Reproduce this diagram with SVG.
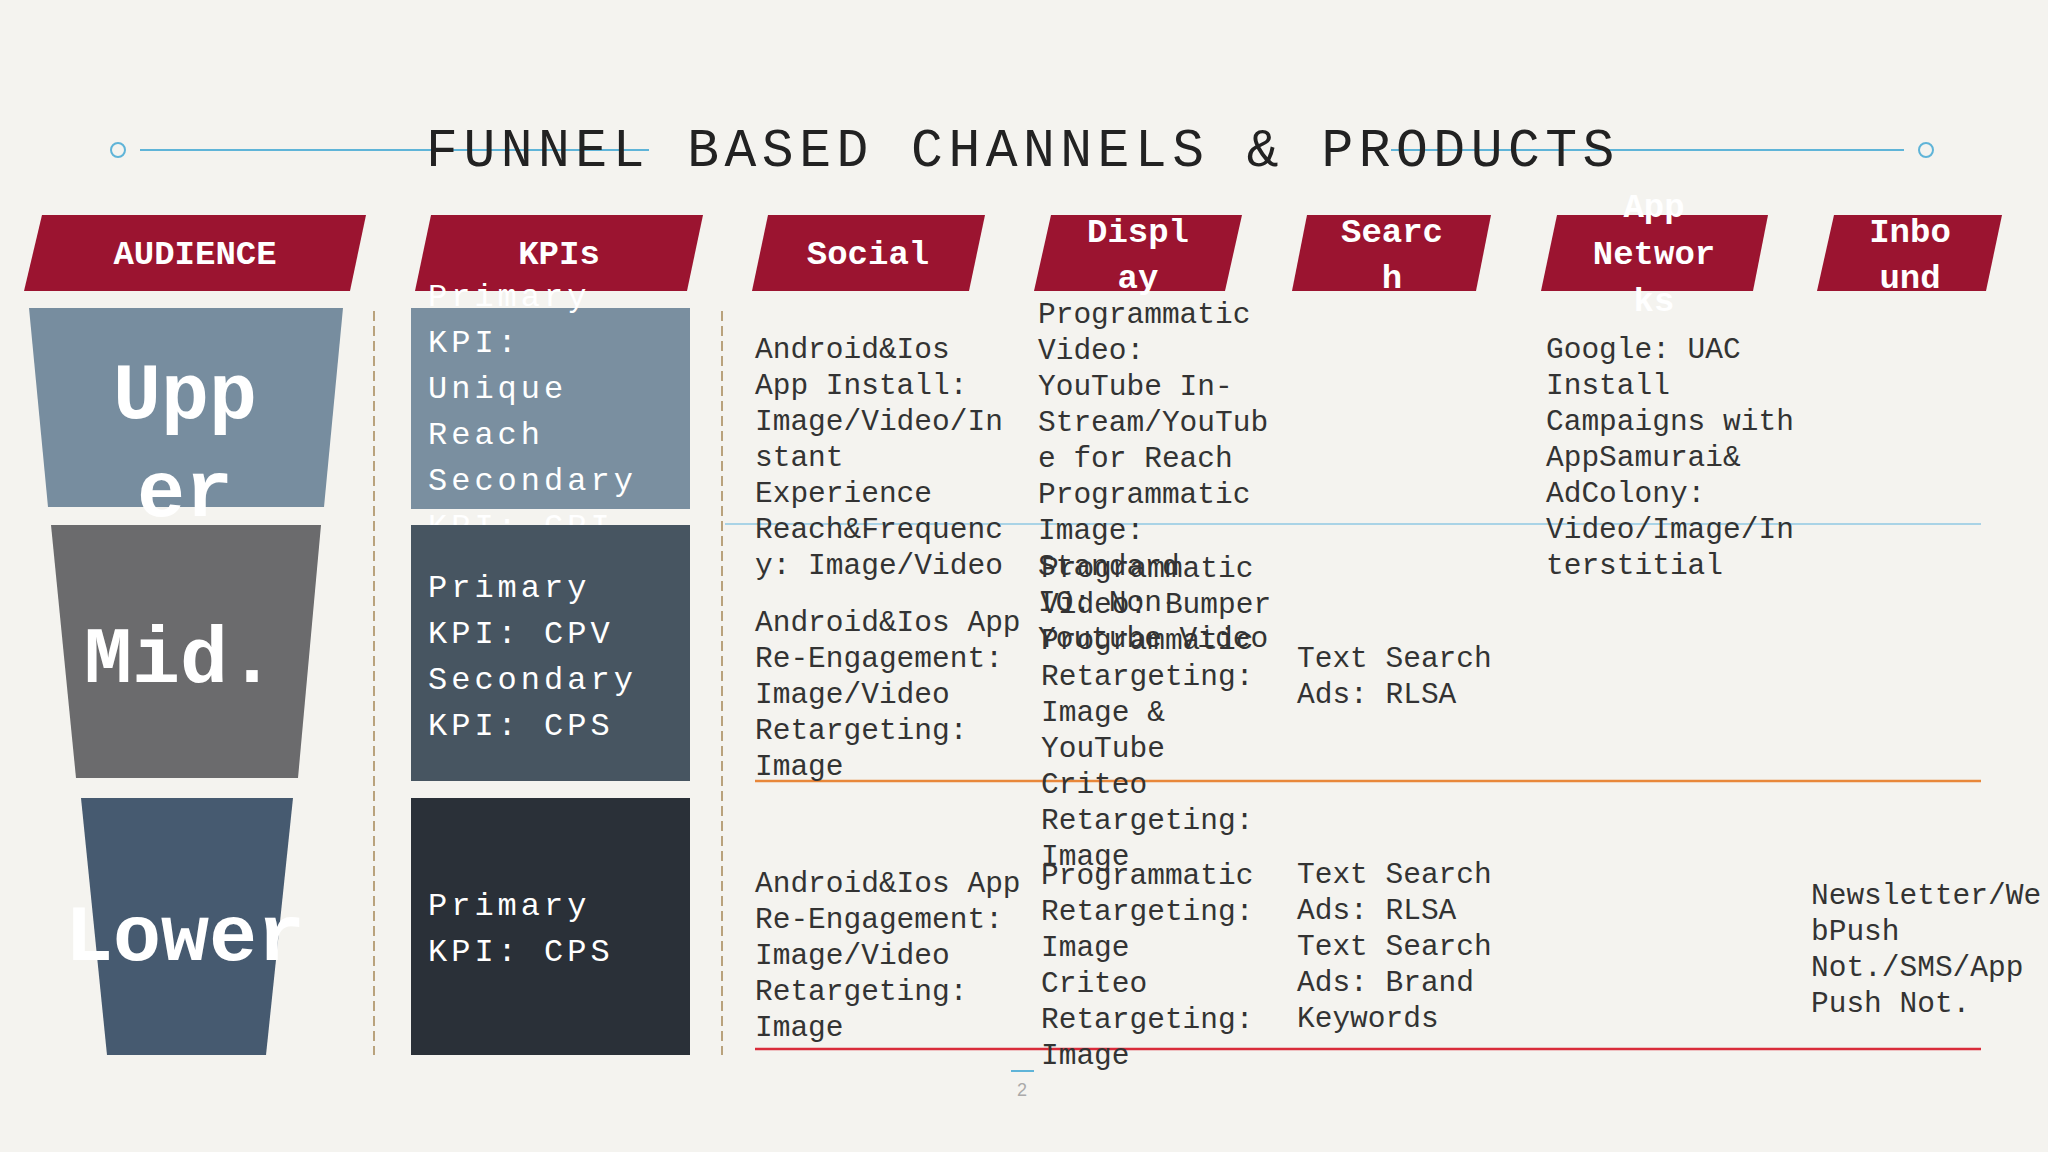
<svg xmlns="http://www.w3.org/2000/svg" width="2048" height="1152" viewBox="0 0 2048 1152">
<style>
.hd{fill:#9b1430}
.ht{font-family:"Liberation Mono",monospace;font-weight:bold;font-size:34px;fill:#fff;text-anchor:middle}
.ft{font-family:"Liberation Mono",monospace;font-weight:bold;fill:#fff;text-anchor:middle}
.kt{font-family:"Liberation Mono",monospace;font-size:32px;fill:#fff;letter-spacing:4px}
.ct{font-family:"Liberation Mono",monospace;font-size:29.5px;fill:#333}
.dash{stroke:#b9a27c;stroke-width:2;stroke-dasharray:10,5}
</style>
<rect width="2048" height="1152" fill="#f4f3ef"/>
<g id="title">
<circle cx="118" cy="150" r="7" fill="none" stroke="#5fb4d8" stroke-width="2"/>
<circle cx="1926" cy="150" r="7" fill="none" stroke="#5fb4d8" stroke-width="2"/>
<line x1="140" y1="150" x2="649" y2="150" stroke="#5fb4d8" stroke-width="2"/>
<line x1="1391" y1="150" x2="1904" y2="150" stroke="#5fb4d8" stroke-width="2"/>
<text x="1023" y="166" font-family="Liberation Mono,monospace" font-size="53" letter-spacing="5.5" text-anchor="middle" fill="#222">FUNNEL BASED CHANNELS &amp; PRODUCTS</text>
</g>
<g id="headers">
<polygon class="hd" points="24,291 42,215 366,215 350,291"/>
<text class="ht" x="195" y="264">AUDIENCE</text>
<polygon class="hd" points="415,291 431,215 703,215 687,291"/>
<text class="ht" x="559" y="264">KPIs</text>
<polygon class="hd" points="752,291 768,215 985,215 969,291"/>
<text class="ht" x="868" y="264">Social</text>
<polygon class="hd" points="1034,291 1051,215 1242,215 1225,291"/>
<text class="ht" x="1138" y="242">Displ</text><text class="ht" x="1138" y="288">ay</text>
<polygon class="hd" points="1292,291 1307,215 1491,215 1476,291"/>
<text class="ht" x="1392" y="242">Searc</text><text class="ht" x="1392" y="288">h</text>
<polygon class="hd" points="1541,291 1557,215 1768,215 1753,291"/>
<text class="ht" x="1654" y="217">App</text><text class="ht" x="1654" y="264">Networ</text><text class="ht" x="1654" y="311">ks</text>
<polygon class="hd" points="1817,291 1834,215 2002,215 1986,291"/>
<text class="ht" x="1910" y="242">Inbo</text><text class="ht" x="1910" y="288">und</text>
</g>
<g id="funnel">
<polygon points="29,308 343,308 324,507 48,507" fill="#778d9f"/>
<text class="ft" font-size="80" x="185" y="418">Upp</text>
<text class="ft" font-size="80" x="185" y="516">er</text>
<polygon points="51,525 321,525 298,778 76,778" fill="#6b6b6d"/>
<text class="ft" font-size="80" x="180" y="682">Mid.</text>
<polygon points="81,798 293,798 266,1055 107,1055" fill="#465a70"/>
<text class="ft" font-size="80" x="185" y="960">Lower</text>
</g>
<g id="dividers">
<line class="dash" x1="374" y1="311" x2="374" y2="1055"/>
<line class="dash" x1="722" y1="311" x2="722" y2="1055"/>
</g>
<g id="kpis">
<rect x="411" y="308" width="279" height="201" fill="#7a8fa0"/>
<text class="kt" x="428" y="306">Primary</text>
<text class="kt" x="428" y="352">KPI:</text>
<text class="kt" x="428" y="398">Unique</text>
<text class="kt" x="428" y="444">Reach</text>
<text class="kt" x="428" y="490">Secondary</text>
<text class="kt" x="428" y="536">KPI: CPI</text>
<rect x="411" y="525" width="279" height="256" fill="#475561"/>
<text class="kt" x="428" y="597">Primary</text>
<text class="kt" x="428" y="643">KPI: CPV</text>
<text class="kt" x="428" y="689">Secondary</text>
<text class="kt" x="428" y="735">KPI: CPS</text>
<rect x="411" y="798" width="279" height="257" fill="#2a3038"/>
<text class="kt" x="428" y="915">Primary</text>
<text class="kt" x="428" y="961">KPI: CPS</text>
</g>
<g id="rows">
<line x1="725" y1="524" x2="1981" y2="524" stroke="#a9d3e6" stroke-width="2"/>
<line x1="755" y1="781" x2="1981" y2="781" stroke="#e8873a" stroke-width="2.5"/>
<line x1="755" y1="1049" x2="1981" y2="1049" stroke="#d92b3a" stroke-width="2.5"/>
</g>
<g id="social" class="ct">
<text x="755" y="358"><tspan x="755">Android&amp;Ios</tspan><tspan x="755" dy="36">App Install:</tspan><tspan x="755" dy="36">Image/Video/In</tspan><tspan x="755" dy="36">stant</tspan><tspan x="755" dy="36">Experience</tspan><tspan x="755" dy="36">Reach&amp;Frequenc</tspan><tspan x="755" dy="36">y: Image/Video</tspan></text>
<text x="755" y="631"><tspan x="755">Android&amp;Ios App</tspan><tspan x="755" dy="36">Re-Engagement:</tspan><tspan x="755" dy="36">Image/Video</tspan><tspan x="755" dy="36">Retargeting:</tspan><tspan x="755" dy="36">Image</tspan></text>
<text x="755" y="892"><tspan x="755">Android&amp;Ios App</tspan><tspan x="755" dy="36">Re-Engagement:</tspan><tspan x="755" dy="36">Image/Video</tspan><tspan x="755" dy="36">Retargeting:</tspan><tspan x="755" dy="36">Image</tspan></text>
</g>
<g id="display" class="ct">
<text x="1038" y="323"><tspan x="1038">Programmatic</tspan><tspan x="1038" dy="36">Video:</tspan><tspan x="1038" dy="36">YouTube In-</tspan><tspan x="1038" dy="36">Stream/YouTub</tspan><tspan x="1038" dy="36">e for Reach</tspan><tspan x="1038" dy="36">Programmatic</tspan><tspan x="1038" dy="36">Image:</tspan><tspan x="1038" dy="36">Standard</tspan><tspan x="1038" dy="36">IO: Non-</tspan><tspan x="1038" dy="36">Youtube Video</tspan></text>
<text x="1041" y="577"><tspan x="1041">Programmatic</tspan><tspan x="1041" dy="36">Video: Bumper</tspan><tspan x="1041" dy="36">Programmatic</tspan><tspan x="1041" dy="36">Retargeting:</tspan><tspan x="1041" dy="36">Image &amp;</tspan><tspan x="1041" dy="36">YouTube</tspan><tspan x="1041" dy="36">Criteo</tspan><tspan x="1041" dy="36">Retargeting:</tspan><tspan x="1041" dy="36">Image</tspan></text>
<text x="1041" y="884"><tspan x="1041">Programmatic</tspan><tspan x="1041" dy="36">Retargeting:</tspan><tspan x="1041" dy="36">Image</tspan><tspan x="1041" dy="36">Criteo</tspan><tspan x="1041" dy="36">Retargeting:</tspan><tspan x="1041" dy="36">Image</tspan></text>
</g>
<g id="search" class="ct">
<text x="1297" y="667"><tspan x="1297">Text Search</tspan><tspan x="1297" dy="36">Ads: RLSA</tspan></text>
<text x="1297" y="883"><tspan x="1297">Text Search</tspan><tspan x="1297" dy="36">Ads: RLSA</tspan><tspan x="1297" dy="36">Text Search</tspan><tspan x="1297" dy="36">Ads: Brand</tspan><tspan x="1297" dy="36">Keywords</tspan></text>
</g>
<g id="appnetworks" class="ct">
<text x="1546" y="358"><tspan x="1546">Google: UAC</tspan><tspan x="1546" dy="36">Install</tspan><tspan x="1546" dy="36">Campaigns with</tspan><tspan x="1546" dy="36">AppSamurai&amp;</tspan><tspan x="1546" dy="36">AdColony:</tspan><tspan x="1546" dy="36">Video/Image/In</tspan><tspan x="1546" dy="36">terstitial</tspan></text>
</g>
<g id="inbound" class="ct">
<text x="1811" y="904"><tspan x="1811">Newsletter/We</tspan><tspan x="1811" dy="36">bPush</tspan><tspan x="1811" dy="36">Not./SMS/App</tspan><tspan x="1811" dy="36">Push Not.</tspan></text>
</g>
<g id="page">
<line x1="1011" y1="1071" x2="1034" y2="1071" stroke="#5fb4d8" stroke-width="2"/>
<text x="1022" y="1096" font-family="Liberation Sans,sans-serif" font-size="18" fill="#aaa" text-anchor="middle">2</text>
</g>
</svg>
